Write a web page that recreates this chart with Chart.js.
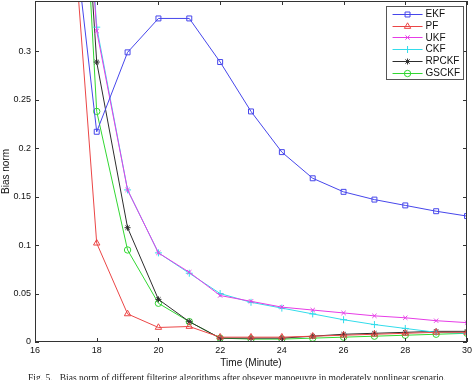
<!DOCTYPE html>
<html>
<head>
<meta charset="utf-8">
<script src="https://cdn.jsdelivr.net/npm/chart.js@4.4.1/dist/chart.umd.min.js"></script>
<style>
  html, body { margin: 0; padding: 0; background: #fff; overflow: hidden; }
  #wrap { position: relative; width: 474px; height: 380px; }
</style>
</head>
<body>
<div id="wrap"><canvas id="biasChart"></canvas></div>
<script>
"use strict";
// time in minutes after the manoeuvre
var minutes = [17, 18, 19, 20, 21, 22, 23, 24, 25, 26, 27, 28, 29, 30];
var ekf = [0.495, 0.217, 0.299, 0.334, 0.334, 0.289, 0.238, 0.196, 0.169, 0.155, 0.147, 0.141, 0.135, 0.130];
var pf = [0.53, 0.102, 0.029, 0.015, 0.016, 0.005, 0.005, 0.005, 0.006, 0.007, 0.008, 0.009, 0.010, 0.010];
var ukf = [0.78, 0.321, 0.157, 0.092, 0.072, 0.048, 0.042, 0.036, 0.033, 0.030, 0.027, 0.025, 0.022, 0.020];
var ckf = [0.80, 0.325, 0.157, 0.092, 0.071, 0.050, 0.041, 0.035, 0.029, 0.023, 0.018, 0.014, 0.010, 0.009];
var rpckf = [0.775, 0.289, 0.118, 0.044, 0.021, 0.004, 0.004, 0.004, 0.006, 0.008, 0.009, 0.010, 0.011, 0.011];
var gsckf = [0.82, 0.238, 0.095, 0.040, 0.021, 0.004, 0.003, 0.003, 0.004, 0.005, 0.006, 0.007, 0.008, 0.009];
var seriesNames = ["EKF", "PF", "UKF", "CKF", "RPCKF", "GSCKF"];
var xTicks = [16, 18, 20, 22, 24, 26, 28, 30];
var yTicks = [0, 0.05, 0.1, 0.15, 0.2, 0.25, 0.3];
var caption = "Fig. 5.   Bias norm of different filtering algorithms after obsever manoeuvre in moderately nonlinear scenario.";

var seriesValues = [ekf, pf, ukf, ckf, rpckf, gsckf];
var colors = ["rgb(70,70,235)", "rgb(235,70,70)", "rgb(230,60,230)", "rgb(50,220,235)", "rgb(45,45,45)", "rgb(50,215,50)"];
var markers = ["rect", "triangle", "crossRot", "cross", "star", "circle"];
var markerSize = [3.5, 3.7, 3, 3.5, 3, 3.2];

function toPoints(vals) {
  return minutes.map(function (m, i) { return { x: m, y: vals[i] }; });
}

var datasets = seriesNames.map(function (name, i) {
  return {
    label: name,
    data: toPoints(seriesValues[i]),
    borderColor: colors[i],
    backgroundColor: colors[i],
    borderWidth: 1,
    pointStyle: markers[i],
    pointRadius: markerSize[i],
    pointBorderWidth: 1,
    pointBorderColor: colors[i],
    pointBackgroundColor: i === 4 ? colors[i] : "rgba(0,0,0,0)",
    tension: 0,
    fill: false
  };
});

var FONT = "'Liberation Sans', Arial, sans-serif";

// box, inward ticks, legend and caption drawn matlab-style
var figureStyle = {
  id: "figureStyle",
  afterDatasetsDraw: function (chart) {
    var ctx = chart.ctx;
    var a = chart.chartArea;
    var xs = chart.scales.x, ys = chart.scales.y;
    ctx.save();
    ctx.strokeStyle = "#333";
    ctx.lineWidth = 1;
    ctx.strokeRect(a.left + 0.5, a.top + 0.5, a.right - a.left - 1, a.bottom - a.top - 1);
    ctx.beginPath();
    xTicks.forEach(function (v) {
      var px = Math.round(xs.getPixelForValue(v)) + 0.5;
      ctx.moveTo(px, a.bottom); ctx.lineTo(px, a.bottom - 4);
      ctx.moveTo(px, a.top); ctx.lineTo(px, a.top + 4);
    });
    yTicks.forEach(function (v) {
      var py = Math.round(ys.getPixelForValue(v)) + 0.5;
      ctx.moveTo(a.left, py); ctx.lineTo(a.left + 4, py);
      ctx.moveTo(a.right, py); ctx.lineTo(a.right - 4, py);
    });
    ctx.stroke();

    // legend
    ctx.font = "10px " + FONT;
    var maxW = 0;
    seriesNames.forEach(function (n) { maxW = Math.max(maxW, ctx.measureText(n).width); });
    var rowH = 11.7;
    var boxW = 7 + 30 + 3 + maxW + 3;
    var boxH = rowH * seriesNames.length + 3;
    var bx = a.right - 4 - boxW, by = a.top + 5;
    ctx.fillStyle = "#fff";
    ctx.fillRect(bx, by, boxW, boxH);
    ctx.strokeStyle = "#555";
    ctx.strokeRect(Math.round(bx) + 0.5, Math.round(by) + 0.5, Math.round(boxW), Math.round(boxH));
    chart.data.datasets.forEach(function (ds, i) {
      var cy = by + 8 + i * rowH;
      ctx.strokeStyle = ds.borderColor;
      ctx.lineWidth = 1;
      ctx.beginPath();
      ctx.moveTo(bx + 7, Math.round(cy) + 0.5);
      ctx.lineTo(bx + 37, Math.round(cy) + 0.5);
      ctx.stroke();
      ctx.fillStyle = ds.pointBackgroundColor;
      Chart.helpers.drawPoint(ctx, { pointStyle: ds.pointStyle, radius: ds.pointRadius, borderWidth: 1 }, bx + 22, Math.round(cy) + 0.5);
      ctx.fillStyle = "#111";
      ctx.textAlign = "left";
      ctx.textBaseline = "middle";
      ctx.fillText(ds.label, bx + 40, cy + 0.5);
    });
    ctx.restore();
  },
  afterDraw: function (chart) {
    var ctx = chart.ctx;
    ctx.save();
    ctx.font = "9.5px 'Liberation Serif', 'Times New Roman', serif";
    ctx.fillStyle = "#222";
    ctx.textAlign = "center";
    ctx.textBaseline = "top";
    ctx.fillText(caption, 237, 374);
    ctx.restore();
  }
};

new Chart(document.getElementById("biasChart"), {
  type: "line",
  data: { datasets: datasets },
  options: {
    responsive: true,
    maintainAspectRatio: false,
    animation: false,
    layout: { autoPadding: false, padding: { top: 1, right: 7, left: 0, bottom: 0 } },
    plugins: { legend: { display: false }, tooltip: { enabled: false } },
    scales: {
      x: {
        type: "linear",
        min: 16,
        max: 30,
        grid: { display: false, drawTicks: false },
        border: { display: false },
        afterBuildTicks: function (s) { s.ticks = xTicks.map(function (v) { return { value: v }; }); },
        afterFit: function (s) { s.height = 38; s.paddingLeft = 0; s.paddingRight = 0; },
        ticks: { padding: 3, color: "#111", font: { family: FONT, size: 9 }, maxRotation: 0,
          callback: function (v) { return String(v); } },
        title: { display: true, text: "Time (Minute)", color: "#111", font: { family: FONT, size: 10 },
          padding: { top: 0, bottom: 11 } }
      },
      y: {
        min: 0,
        max: 0.352,
        grid: { display: false, drawTicks: false },
        border: { display: false },
        afterBuildTicks: function (s) { s.ticks = yTicks.map(function (v) { return { value: v }; }); },
        afterFit: function (s) { s.width = 35; s.paddingTop = 0; s.paddingBottom = 0; },
        ticks: { padding: 4, color: "#111", font: { family: FONT, size: 9 },
          callback: function (v) { return String(v); } },
        title: { display: true, text: "Bias norm", color: "#111", font: { family: FONT, size: 10 },
          padding: { top: 0, bottom: 0 } }
      }
    }
  },
  plugins: [figureStyle]
});
</script>
</body>
</html>
